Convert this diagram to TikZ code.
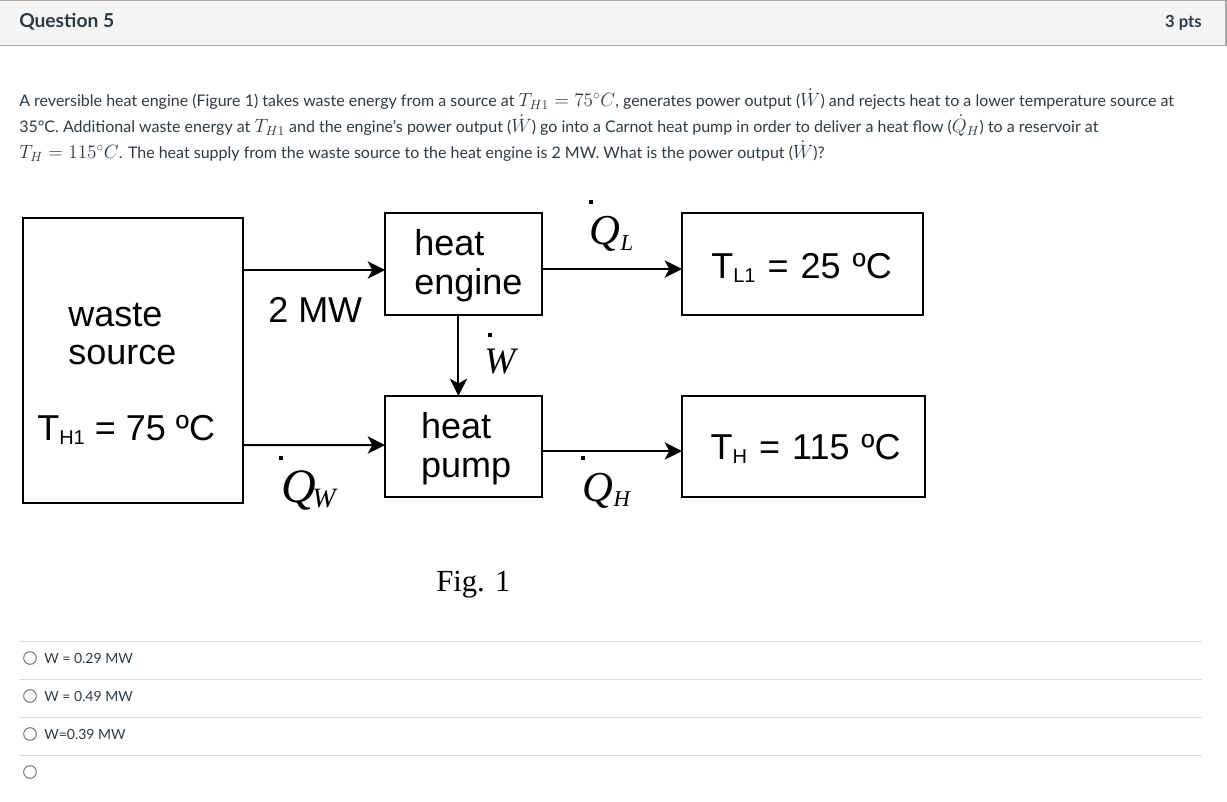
\documentclass[tikz,border=0pt]{standalone}
\usepackage{fontspec}
\setmainfont{Lato}
\newfontfamily\figsans{Liberation Sans}
\newfontfamily\figserif{Liberation Serif}
\usepackage{tikz}
\usetikzlibrary{arrows.meta,positioning}
\definecolor{bodytext}{HTML}{2D3B45}
\definecolor{headfill}{HTML}{F5F5F5}
\definecolor{headline}{HTML}{AAAAAA}
\definecolor{sepline}{HTML}{DDDDDD}
\definecolor{radioline}{HTML}{737373}
\newcommand{\figsub}[1]{\raisebox{-3pt}{\fontsize{15}{15}\selectfont #1}}
\DeclareMathSizes{12}{13.6}{9.6}{7}

\begin{document}
\begin{tikzpicture}[x=0.75pt,y=-0.75pt]
    \tikzset{
      headband/.style={rectangle,fill=headfill,draw=none,inner sep=0pt,outer sep=0pt,anchor=north west,minimum width=919.5pt,minimum height=33.75pt},
      headtext/.style={inner sep=0pt,text=bodytext,font=\fontsize{14.4}{16}\selectfont\bfseries},
      bodyline/.style={anchor=base west,inner sep=0pt,text=bodytext,font=\fontsize{12}{14}\selectfont},
      answer/.style={anchor=base west,inner sep=0pt,text=bodytext,font=\fontsize{10.5}{13}\selectfont},
      radio/.style={circle,draw=radioline,line width=0.75pt,inner sep=0pt,outer sep=0pt,minimum size=9.5pt},
      boxnode/.style={rectangle,draw=black,line width=1.5pt,inner sep=0pt,outer sep=0pt,anchor=north west,align=left,font=\figsans\fontsize{27}{29.2}\selectfont},
      figtext/.style={inner sep=0pt,align=left,font=\figsans\fontsize{27}{28.5}\selectfont},
      flowlabel/.style={inner sep=0pt,anchor=base west,font=\figserif\itshape\fontsize{32}{32}\selectfont},
      flowsub/.style={inner sep=0pt,anchor=base west,yshift=-4pt,font=\figserif\itshape\fontsize{17}{17}\selectfont},
      dotmark/.style={rectangle,fill=black,inner sep=0pt,outer sep=0pt,minimum size=3pt},
      arrow/.style={-{Stealth[length=13pt,width=13pt,inset=3.5pt]},line width=1.5pt}
    }
    \useasboundingbox (0,0) rectangle (1227,802);
    % header
    \node[headband](head) at (0,0.5){};
    \draw[headline,line width=1pt](head.north west) -- (head.north east) -- (head.south east) -- (head.south west);
    \node[headtext,anchor=base west](title) at (19,28){Question 5};
    \node[headtext,anchor=base east,font=\fontsize{12.5}{16}\selectfont\bfseries](points) at (1202,28){3 pts};
    % question text
    \node[bodyline](lineone) at (19,106.5){A reversible heat engine (Figure 1) takes waste energy from a source at $T_{H1}=75^\circ C$, generates power output ($\dot W$) and rejects heat to a lower temperature source at};
    \node[bodyline](linetwo) at (19,132.5){35\textdegree C. Additional waste energy at $T_{H1}$ and the engine's power output ($\dot W$) go into a Carnot heat pump in order to deliver a heat flow ($\dot Q_H$) to a reservoir at};
    \node[bodyline](linethree) at (19,158.5){$T_H=115^\circ C$. The heat supply from the waste source to the heat engine is 2 MW. What is the power output ($\dot W$)?};
    % figure
    \node[boxnode,minimum width=165pt,minimum height=213.75pt](waste) at (23,218){};
    \node[figtext,anchor=base west](wastename) at (68,364){waste\\source};
    \node[figtext,anchor=base west](wastetemp) at (37,440){T\figsub{H1} = 75 ºC};
    \node[boxnode,minimum width=118pt,minimum height=75.75pt,text width=74pt](engine) at (385,213.5){\rule{0pt}{22.7pt}heat\\engine};
    \node[boxnode,minimum width=118pt,minimum height=75.75pt,text width=64pt](pump) at (385,396){\rule{0pt}{22.7pt}heat\\pump};
    \node[boxnode,minimum width=181pt,minimum height=75.75pt,text width=137pt](low) at (682,213.5){\rule{0pt}{24.5pt}\mbox{T\figsub{L1} = 25 ºC}};
    \node[boxnode,minimum width=182pt,minimum height=75.75pt,text width=139pt](high) at (682,396){\rule{0pt}{22.5pt}\mbox{T\figsub{H} = 115 ºC}};
    \draw[arrow]([yshift=-39pt]waste.north east) -- ([yshift=-4.5pt]engine.west);
    \draw[arrow]([yshift=-170.25pt]waste.north east) -- ([yshift=1.1pt]pump.west);
    \draw[arrow]([yshift=-3.75pt]engine.east) -- ([yshift=-3.75pt]low.west);
    \draw[arrow]([yshift=-3.4pt]pump.east) -- ([yshift=-3.4pt]high.west);
    \draw[arrow]([xshift=-3.9pt]engine.south) -- ([xshift=-3.9pt]pump.north);
    % flow labels
    \node[figtext,anchor=base west](power) at (268,322){2 MW};
    \node[flowlabel](ql) at (589,245){Q};
    \node[flowsub,right=0pt of ql.base east,anchor=base west](qlsub) {L};
    \node[dotmark](qldot) at (591,202){};
    \node[flowlabel,font=\figserif\itshape\fontsize{36}{36}\selectfont](qw) at (281,502){Q};
    \node[flowsub,right=-3pt of qw.base east,anchor=base west,font=\figserif\itshape\fontsize{21}{21}\selectfont](qwsub) {W};
    \node[dotmark](qwdot) at (281,458){};
    \node[flowlabel](qh) at (582,501){Q};
    \node[flowsub,right=0pt of qh.base east,anchor=base west](qhsub) {H};
    \node[dotmark](qhdot) at (583,458){};
    \node[flowlabel,font=\figserif\itshape\fontsize{28}{28}\selectfont](work) at (484,373){W};
    \node[dotmark](workdot) at (490,335){};
    \node[inner sep=0pt,anchor=base west,font=\figserif\fontsize{23}{25}\selectfont](figlabel) at (436,591){Fig. 1};
    % answers
    \foreach \ypos/\name/\answertext in {658/first/W = 0.29 MW,696/second/W = 0.49 MW,734/third/W=0.39 MW,772/fourth/}{
      \node[radio](radio\name) at (30,\ypos){};
      \node[answer](answer\name) at (44,\ypos+5){\answertext};
    }
    \foreach \ypos in {641,679.5,717.5,755.5}{
      \coordinate (sepleft) at (19,\ypos);
      \coordinate (sepright) at (1202,\ypos);
      \draw[sepline,line width=0.75pt](sepleft) -- (sepright);
    }
  \end{tikzpicture}
\end{document}
